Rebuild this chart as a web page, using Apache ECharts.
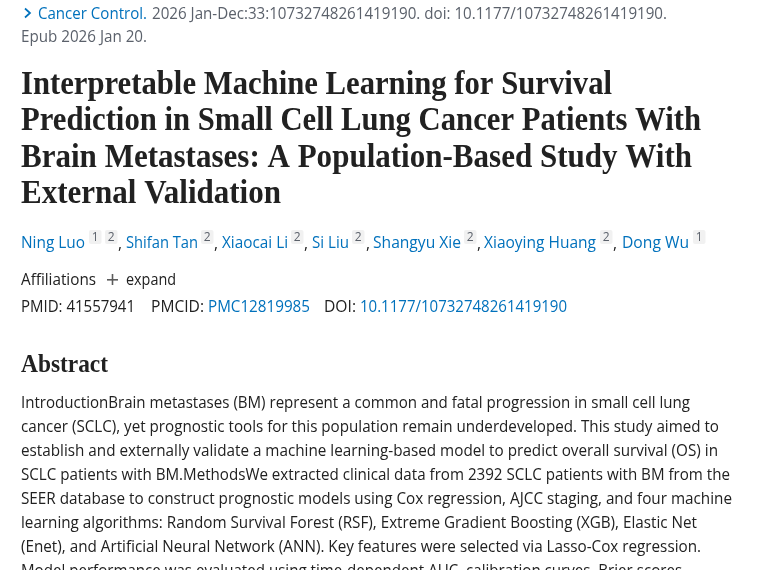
<!DOCTYPE html>
<html>
<head>
<meta charset="utf-8">
<style>html,body{margin:0;padding:0;background:#fff}#main{width:760px;height:570px}</style>
<script src="https://cdn.jsdelivr.net/npm/echarts@6/dist/echarts.min.js"></script>
</head>
<body>
<div id="main"></div>
<script>
// text content
const citationJournal = 'Cancer Control.';
const citationRest = '2026 Jan-Dec:33:10732748261419190. doi: 10.1177/10732748261419190.';
const citationEpub = 'Epub 2026 Jan 20.';
const titleLines = [
    'Interpretable Machine Learning for Survival',
    'Prediction in Small Cell Lung Cancer Patients With',
    'Brain Metastases: A Population-Based Study With',
    'External Validation'
];
const authors = ['Ning Luo', 'Shifan Tan', 'Xiaocai Li', 'Si Liu', 'Shangyu Xie', 'Xiaoying Huang', 'Dong Wu'];
const authorRefs = [['1', '2'], ['2'], ['2'], ['2'], ['2'], ['2'], ['1']];
const idLabels = ['PMID: 41557941', 'PMCID:', 'DOI:'];
const idLinks = ['PMC12819985', '10.1177/10732748261419190'];
const abstractLines = [
    'IntroductionBrain metastases (BM) represent a common and fatal progression in small cell lung',
    'cancer (SCLC), yet prognostic tools for this population remain underdeveloped. This study aimed to',
    'establish and externally validate a machine learning-based model to predict overall survival (OS) in',
    'SCLC patients with BM.MethodsWe extracted clinical data from 2392 SCLC patients with BM from the',
    'SEER database to construct prognostic models using Cox regression, AJCC staging, and four machine',
    'learning algorithms: Random Survival Forest (RSF), Extreme Gradient Boosting (XGB), Elastic Net',
    '(Enet), and Artificial Neural Network (ANN). Key features were selected via Lasso-Cox regression.',
    'Model performance was evaluated using time-dependent AUC, calibration curves, Brier scores,'
];

// layout
const BLUE = '#0071bc', DARK = '#212121', GREY = '#5b616b';
const SANS = '"Open Sans", "Noto Sans", sans-serif';
const SERIF = '"Liberation Serif", serif';
const BODY = 16;
const titleRows = [[85.5, 612], [121.5, 701], [158.5, 692], [194.5, 281]];
const authorSpans = [[21, 85], [126, 198], [222, 288], [312, 349], [373, 461], [484, 596], [622, 689]];
const badgeStarts = [[89, 105], [201], [291], [352], [464], [600], [693]];
const commaStarts = [118, 214, 304, 366, 477, 613];
const abstractRows = [[403.5, 690], [427.5, 719], [451.5, 718], [475.5, 730], [499.5, 732], [523.5, 697], [547.5, 701], [571.5, 686]];

const ctx = document.createElement('canvas').getContext('2d');

// one text run, squeezed horizontally so it spans x0..x1 as in the reference
function run(text, x0, x1, y, size, color, family, weight) {
    const font = (weight || 'normal') + ' ' + size + 'px ' + (family || SANS);
    ctx.font = font;
    return {
        type: 'text', x: x0, y: y, scaleX: (x1 - x0) / ctx.measureText(text).width,
        style: { text: text, fill: color || DARK, font: font, textVerticalAlign: 'middle' }
    };
}

const items = [];
items.push({
    type: 'polyline',
    shape: { points: [[25, 8.5], [30, 13], [25, 17.5]] },
    style: { stroke: BLUE, lineWidth: 1.7, fill: null }
});
items.push(run(citationJournal, 38, 147, 14.5, BODY, BLUE));
items.push(run(citationRest, 152, 667, 14.5, BODY, GREY));
items.push(run(citationEpub, 21, 147, 37.5, BODY, GREY));

titleLines.forEach((line, i) => {
    items.push(run(line, 21, titleRows[i][1], titleRows[i][0], 33, DARK, SERIF, 'bold'));
});

authors.forEach((name, i) => {
    const span = authorSpans[i];
    items.push(run(name, span[0], span[1], 243.5, BODY, BLUE));
    authorRefs[i].forEach((ref, j) => {
        const bx = badgeStarts[i][j];
        items.push({ type: 'rect', shape: { x: bx, y: 230, width: 12.5, height: 14, r: 2 }, style: { fill: '#f1f1f1' } });
        items.push({
            type: 'text', x: bx + 6.2, y: 238,
            style: { text: ref, fill: GREY, font: '12px ' + SANS, textAlign: 'center', textVerticalAlign: 'middle' }
        });
    });
    if (i < authors.length - 1) {
        items.push(run(',', commaStarts[i], commaStarts[i] + 4, 244, BODY, DARK));
    }
});

items.push(run('Affiliations', 21, 96, 280.5, BODY, DARK));
items.push({ type: 'rect', shape: { x: 107, y: 279, width: 11, height: 1.6 }, style: { fill: '#5b5b5b' } });
items.push({ type: 'rect', shape: { x: 111.7, y: 274, width: 1.6, height: 11 }, style: { fill: '#5b5b5b' } });
items.push(run('expand', 126, 176, 280.5, BODY, DARK));

items.push(run(idLabels[0], 21, 135, 307.5, BODY, DARK));
items.push(run(idLabels[1], 151, 204, 307.5, BODY, DARK));
items.push(run(idLinks[0], 208, 310, 307.5, BODY, BLUE));
items.push(run(idLabels[2], 324, 356, 307.5, BODY, DARK));
items.push(run(idLinks[1], 360, 567, 307.5, BODY, BLUE));

items.push(run('Abstract', 21, 108, 365, 26, DARK, SERIF, 'bold'));

abstractLines.forEach((line, i) => {
    items.push(run(line, 21, abstractRows[i][1], abstractRows[i][0], BODY, DARK));
});

const chart = echarts.init(document.getElementById('main'), null, { renderer: 'canvas' });
chart.setOption({ backgroundColor: '#ffffff', animation: false, graphic: { elements: items } });
</script>
</body>
</html>
